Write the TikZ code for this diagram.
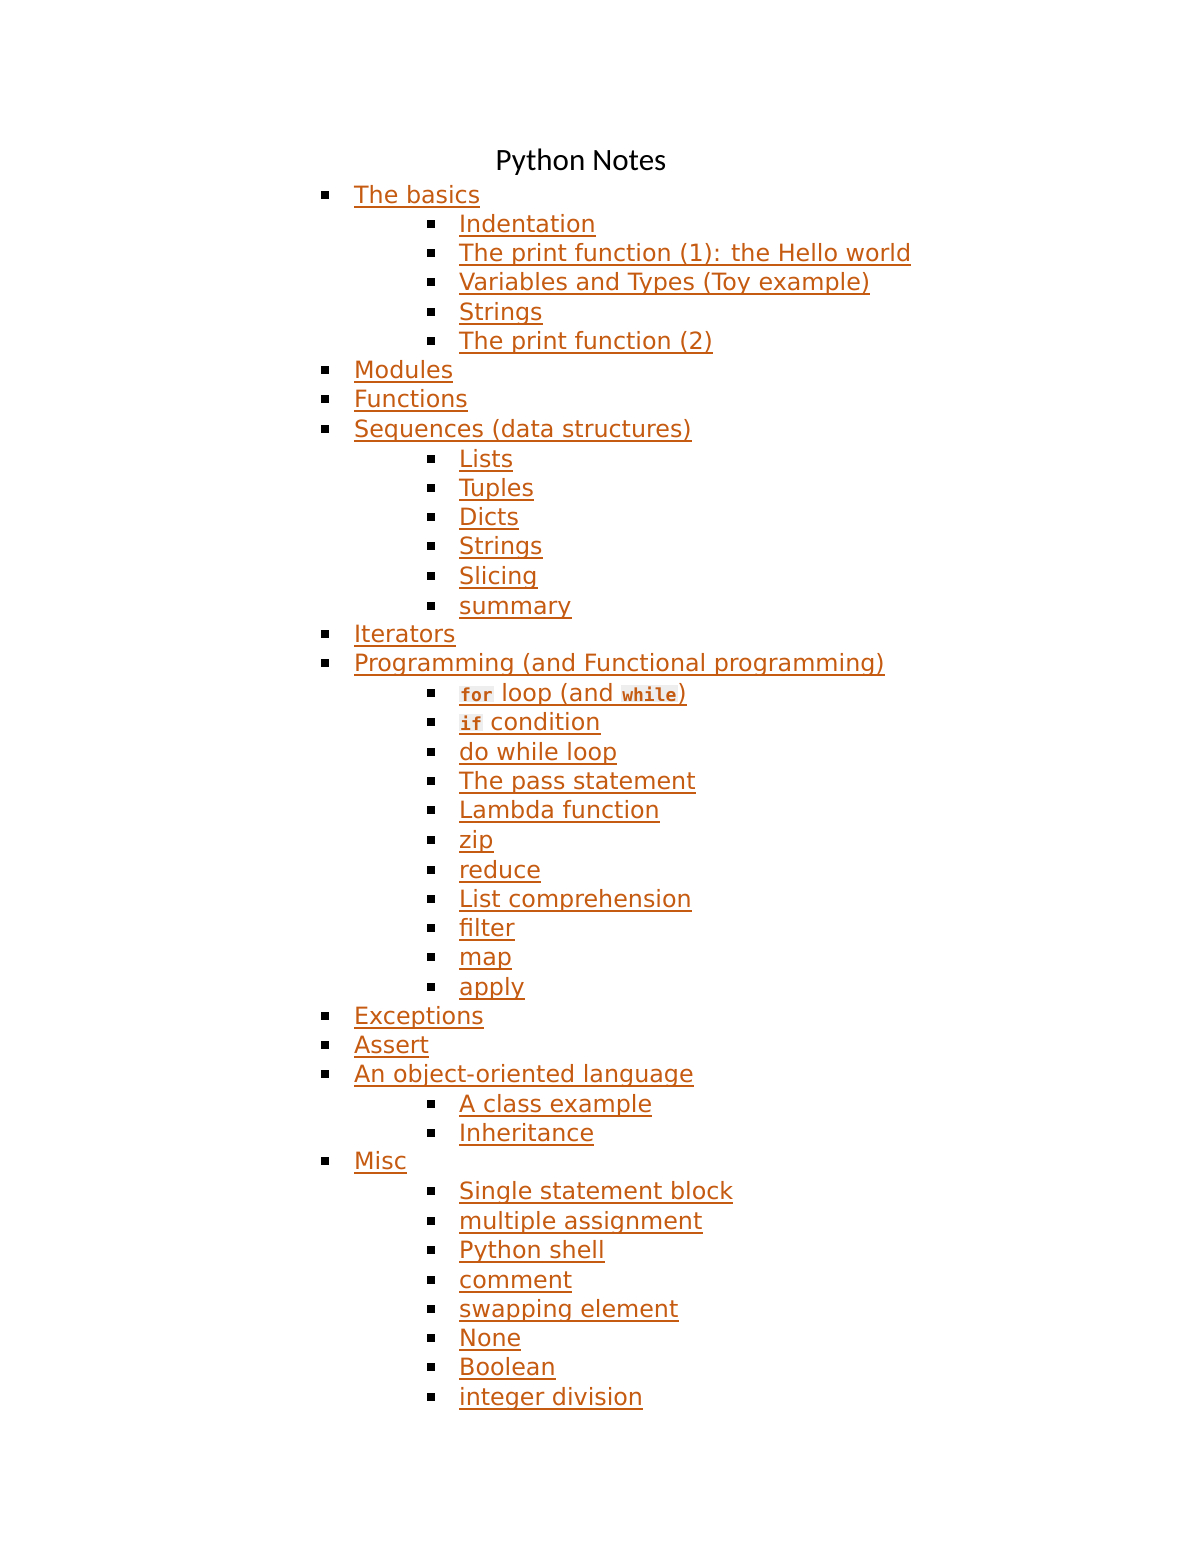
\documentclass[tikz,border=0pt]{standalone}
\usepackage{fontspec}
\setmainfont{DejaVu Sans}
\setmonofont{DejaVu Sans Mono}
\newfontfamily\titlefont{Carlito}
\definecolor{lnk}{HTML}{C55A11}
\definecolor{codebg}{HTML}{EEEEEE}
\newcommand{\cd}[1]{{\setlength{\fboxsep}{1pt}\colorbox{codebg}{\ttfamily\bfseries\fontsize{18}{18}\selectfont #1}}}
\tikzset{lnktext/.style={anchor=base west,inner sep=0pt,text=lnk,font=\fontsize{23.8}{25}\selectfont},
bul/.style={fill=black,minimum size=7.5pt,inner sep=0pt}}
\newcommand{\entry}[4]{%
 \node[bul] (b#1) at ({#2==1?325:431},{#3}) {};
 \node[lnktext] (#1) at ({#2==1?354:459},{#3+8}) {#4};
 \draw[lnk,line width=1.3pt] ([yshift=-4]#1.base west) -- ([yshift=-4]#1.base east);}
\begin{document}
\begin{tikzpicture}[x=1pt,y=-1pt]
\useasboundingbox (0,0) rectangle (1200,1553);
\node[font=\titlefont\fontsize{31}{31}\selectfont] (title) at (581,162) {Python Notes};
\entry{a1}{1}{195}{The basics}
\entry{a2}{2}{224}{Indentation}
\entry{a3}{2}{253}{The print function (1): the Hello world}
\entry{a4}{2}{282}{Variables and Types (Toy example)}
\entry{a5}{2}{312}{Strings}
\entry{a6}{2}{341}{The print function (2)}
\entry{b1}{1}{370}{Modules}
\entry{b2}{1}{399}{Functions}
\entry{b3}{1}{429}{Sequences (data structures)}
\entry{c1}{2}{459}{Lists}
\entry{c2}{2}{488}{Tuples}
\entry{c3}{2}{517}{Dicts}
\entry{c4}{2}{546}{Strings}
\entry{c5}{2}{576}{Slicing}
\entry{c6}{2}{606}{summary}
\entry{d1}{1}{634}{Iterators}
\entry{d2}{1}{663}{Programming (and Functional programming)}
\entry{e1}{2}{693}{\cd{for} loop (and \cd{while})}
\entry{e2}{2}{722}{\cd{if} condition}
\entry{e3}{2}{752}{do while loop}
\entry{e4}{2}{781}{The pass statement}
\entry{e5}{2}{810}{Lambda function}
\entry{e6}{2}{840}{zip}
\entry{e7}{2}{870}{reduce}
\entry{e8}{2}{899}{List comprehension}
\entry{e9}{2}{928}{filter}
\entry{e10}{2}{957}{map}
\entry{e11}{2}{987}{apply}
\entry{f1}{1}{1016}{Exceptions}
\entry{f2}{1}{1045}{Assert}
\entry{f3}{1}{1074}{An object-oriented language}
\entry{g1}{2}{1104}{A class example}
\entry{g2}{2}{1133}{Inheritance}
\entry{h1}{1}{1161}{Misc}
\entry{i1}{2}{1191}{Single statement block}
\entry{i2}{2}{1221}{multiple assignment}
\entry{i3}{2}{1250}{Python shell}
\entry{i4}{2}{1280}{comment}
\entry{i5}{2}{1309}{swapping element}
\entry{i6}{2}{1338}{None}
\entry{i7}{2}{1367}{Boolean}
\entry{i8}{2}{1397}{integer division}
\end{tikzpicture}
\end{document}
